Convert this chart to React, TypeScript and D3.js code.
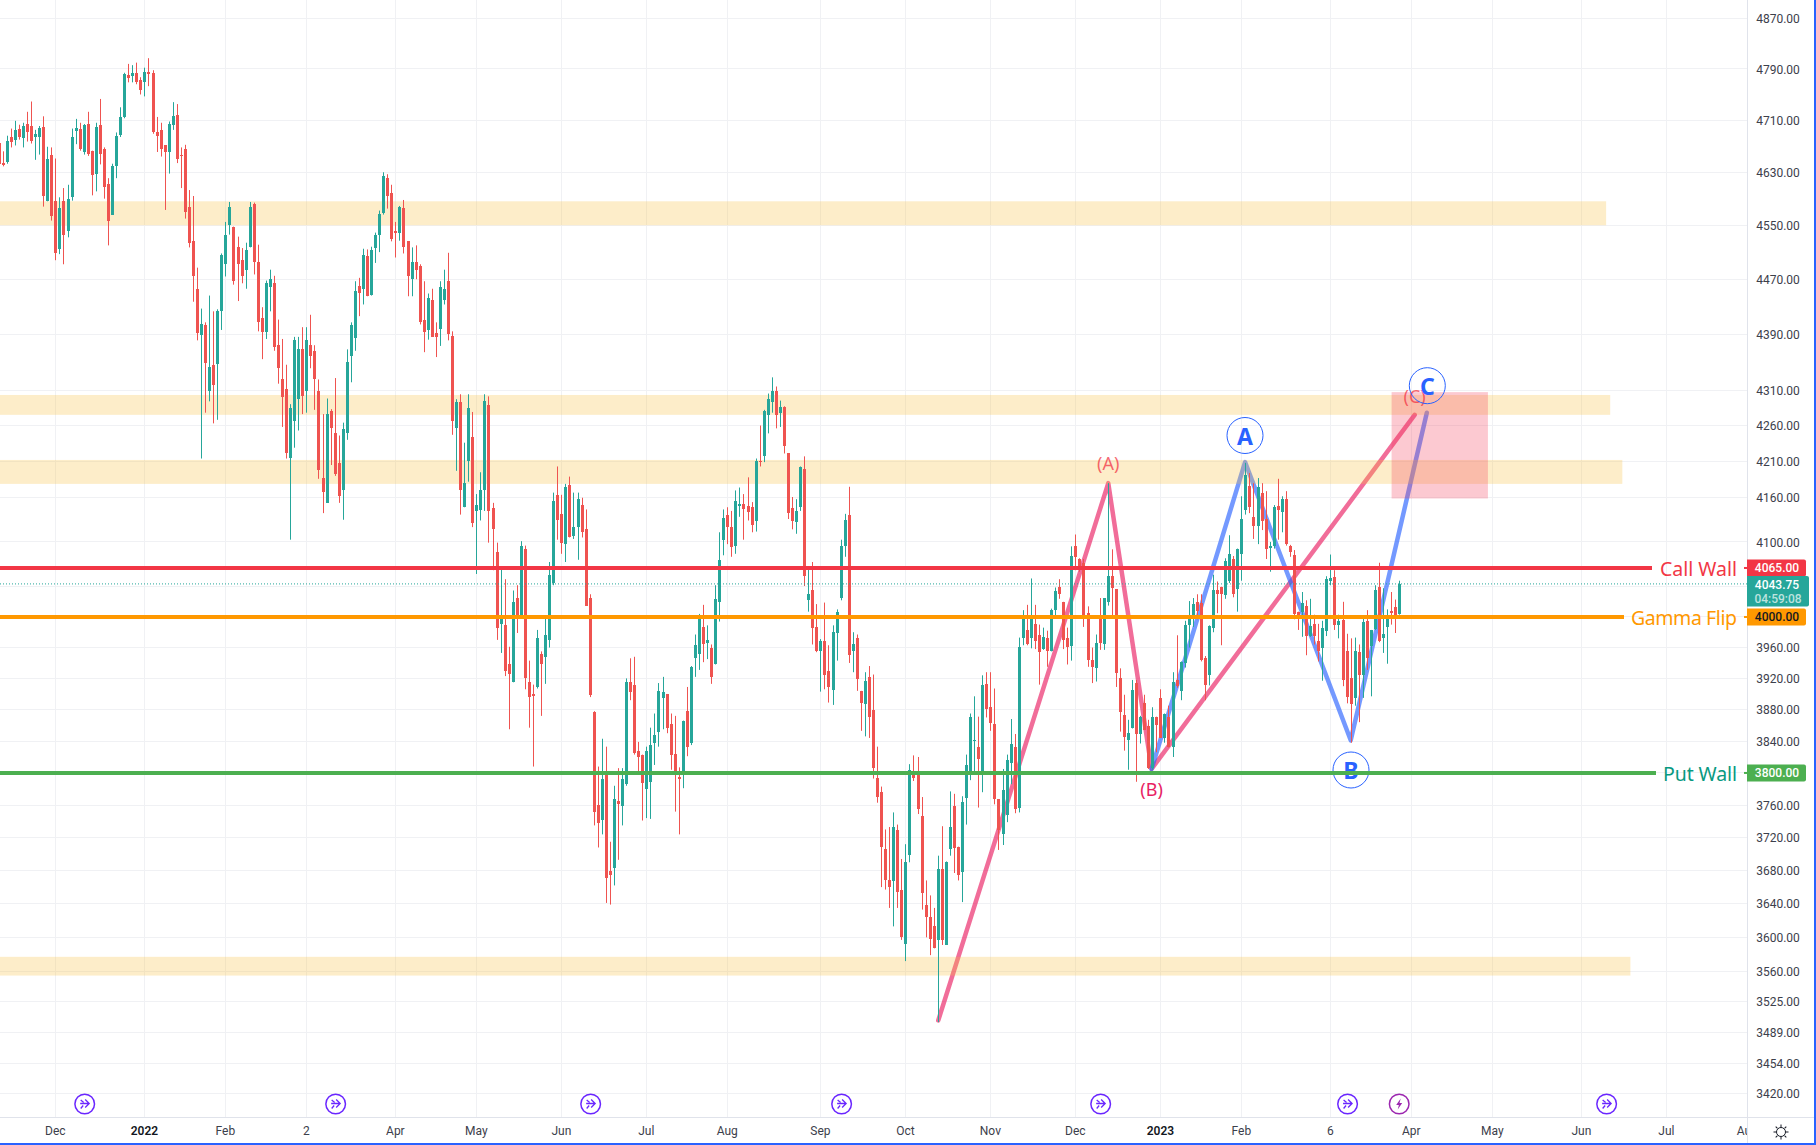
import * as d3 from "d3";

// daily bars
const opens = [
  4675,4644,4646,4684,4680,4697,4683,4704,4701,4684,
  4684,4700,4587,4657,4587,4514,4587,4541,4593,4694,
  4697,4661,4704,4663,4628,4703,4665,4612,4566,4640,
  4687,4715,4781,4779,4784,4773,4769,4785,4784,4692,
  4695,4671,4661,4703,4718,4656,4666,4578,4526,4455,
  4388,4403,4309,4345,4347,4423,4492,4551,4547,4518,
  4498,4483,4518,4582,4495,4413,4393,4458,4465,4374,
  4325,4311,4215,4266,4298,4368,4308,4374,4366,4309,
  4187,4153,4280,4250,4208,4171,4250,4359,4384,4460,
  4455,4504,4447,4516,4535,4569,4621,4599,4541,4538,
  4576,4526,4470,4495,4489,4411,4396,4439,4391,4398,
  4440,4468,4387,4257,4293,4147,4211,4244,4142,4143,
  4170,4289,4146,4087,3991,3990,3939,3915,4025,4000,
  4091,3915,3900,3909,3952,3948,3970,4045,4164,4138,
  4097,4178,4108,4120,4150,4117,4025,3877,3760,3742,
  3799,3680,3683,3765,3759,3786,3915,3911,3828,3823,
  3780,3789,3837,3852,3895,3900,3862,3824,3795,3797,
  3878,3837,3946,3952,3987,3966,3959,3938,4020,4103,
  4137,4120,4094,4149,4152,4149,4147,4128,4211,4218,
  4275,4293,4309,4278,4286,4221,4146,4127,4147,4199,
  4022,4035,3987,3956,3968,3929,3905,3979,4025,4094,
  4136,3955,3972,3904,3887,3922,3879,3794,3776,3706,
  3668,3667,3729,3656,3592,3699,3801,3797,3746,3639,
  3624,3613,3597,3682,3591,3706,3759,3708,3678,3769,
  3800,3840,3833,3797,3913,3883,3862,3767,3724,3748,
  3812,3832,3756,3972,3983,3973,3991,3977,3958,3973,
  3956,4009,4039,4020,3972,3962,4094,4077,4071,4005,
  3944,3934,3997,3965,4020,4054,4037,3920,3873,3842,
  3856,3914,3849,3888,3859,3806,3870,3895,3844,3871,
  3833,3918,3904,3940,3990,4000,4020,4018,3946,3924,
  3986,4036,4039,4029,4048,4077,4037,4084,4143,4176,
  4134,4122,4167,4131,4092,4095,4149,4140,4158,4095,
  4083,4006,4007,4015,3975,3991,3969,3959,3982,4048,
  4053,3989,3996,3955,3920,3895,3954,3924,3995,3962,
  3984,4039,3972,3987,4008,4013,4004,
];
const highs = [
  4675,4662,4686,4697,4709,4703,4706,4723,4739,4695,
  4701,4716,4669,4668,4651,4592,4606,4611,4697,4712,
  4706,4704,4723,4663,4706,4743,4668,4621,4643,4691,
  4730,4784,4798,4796,4800,4777,4792,4807,4788,4715,
  4706,4671,4708,4738,4735,4668,4672,4603,4594,4487,
  4427,4407,4446,4423,4426,4508,4555,4585,4548,4533,
  4516,4524,4585,4584,4521,4429,4468,4484,4475,4411,
  4383,4346,4290,4386,4386,4400,4400,4418,4374,4325,
  4276,4298,4283,4327,4246,4264,4368,4407,4467,4472,
  4515,4514,4518,4539,4572,4630,4627,4611,4555,4579,
  4588,4526,4517,4520,4492,4467,4449,4456,4407,4467,
  4484,4509,4394,4297,4304,4236,4304,4279,4165,4195,
  4304,4301,4153,4099,4066,4050,3961,4035,4042,4101,
  4095,3943,3912,3983,3955,3998,4073,4167,4203,4164,
  4179,4189,4167,4167,4160,4144,4030,3878,3808,3843,
  3833,3715,3784,3806,3806,3920,3946,3948,3839,3823,
  3833,3857,3875,3914,3922,3900,3875,3872,3807,3866,
  3909,3936,3977,4004,4016,3989,3964,4042,4113,4144,
  4147,4142,4170,4174,4165,4188,4154,4214,4260,4282,
  4305,4328,4315,4295,4287,4221,4161,4158,4203,4217,
  4064,4073,4017,3971,4019,3963,3989,4010,4103,4138,
  4175,3980,3977,3904,3928,3936,3925,3833,3783,3730,
  3733,3751,3736,3694,3712,3811,3822,3820,3770,3668,
  3650,3635,3698,3734,3691,3777,3774,3709,3771,3823,
  3875,3897,3871,3924,3928,3928,3907,3767,3805,3823,
  3868,3849,3973,4009,4016,4051,4016,3990,3986,3982,
  4011,4039,4050,4020,3986,4094,4110,4078,4077,4014,
  3960,3977,4025,4025,4180,4090,4037,3933,3899,3867,
  3918,3918,3872,3899,3867,3883,3871,3906,3875,3885,
  3928,3976,3942,3995,4021,4025,4030,4030,3949,3989,
  4056,4047,4040,4078,4109,4081,4091,4162,4208,4194,
  4180,4187,4180,4169,4100,4150,4186,4162,4169,4096,
  4089,4007,4033,4022,4024,4003,3991,3995,4054,4083,
  4062,4003,4020,3978,3972,3973,3964,4000,4009,3983,
  4042,4072,4038,4010,4033,4023,4048,
];
const lows = [
  4639,4639,4643,4668,4671,4680,4668,4677,4674,4649,
  4657,4578,4586,4557,4498,4507,4492,4532,4587,4673,
  4663,4657,4655,4595,4601,4642,4590,4520,4566,4621,
  4684,4713,4769,4769,4766,4750,4747,4763,4689,4661,
  4654,4573,4628,4695,4644,4606,4560,4517,4437,4381,
  4214,4278,4294,4263,4268,4396,4474,4536,4462,4438,
  4464,4456,4517,4477,4394,4354,4383,4423,4366,4319,
  4258,4214,4103,4229,4253,4276,4278,4341,4282,4186,
  4139,4153,4205,4190,4153,4130,4240,4321,4366,4416,
  4433,4445,4446,4494,4510,4566,4575,4526,4502,4527,
  4508,4445,4445,4470,4404,4364,4382,4386,4357,4373,
  4433,4381,4247,4197,4137,4147,4182,4120,4057,4129,
  4142,4099,4062,3970,3953,3923,3855,3915,3979,4000,
  3906,3857,3808,3907,3872,3913,3960,4042,4103,4084,
  4073,4106,4104,4076,4106,4015,3896,3735,3708,3724,
  3641,3639,3662,3693,3735,3784,3892,3823,3801,3741,
  3744,3743,3810,3833,3855,3850,3804,3752,3724,3781,
  3821,3835,3922,3931,3941,3945,3913,3938,3994,4082,
  4097,4080,4084,4134,4103,4129,4113,4114,4203,4209,
  4249,4278,4256,4258,4221,4131,4117,4111,4142,4041,
  4007,3964,3954,3903,3906,3889,3886,3943,4022,4080,
  3940,3928,3904,3853,3846,3844,3793,3763,3660,3657,
  3635,3613,3635,3597,3572,3690,3790,3749,3633,3600,
  3579,3587,3501,3591,3591,3698,3677,3668,3642,3736,
  3791,3802,3757,3776,3870,3853,3761,3705,3711,3739,
  3786,3750,3751,3963,3963,3959,3958,3912,3957,3935,
  3955,4002,4024,3958,3938,3943,4062,4060,3987,3935,
  3914,3916,3957,3957,4015,4000,3909,3852,3828,3804,
  3856,3789,3837,3854,3805,3804,3826,3844,3838,3832,
  3820,3908,3892,3934,3960,3987,3997,3942,3892,3911,
  3980,4005,3963,4024,4045,4026,4007,4048,4137,4139,
  4104,4097,4116,4077,4060,4091,4103,4113,4095,4080,
  3997,3983,3974,3950,3974,3964,3942,3917,3975,4042,
  3983,3972,3910,3888,3838,3885,3864,3895,3931,3897,
  3983,3967,3953,3939,3990,3979,4003,
];
const closes = [
  4642,4641,4678,4677,4695,4684,4701,4692,4678,4689,
  4698,4594,4651,4564,4508,4576,4536,4590,4684,4698,
  4666,4703,4658,4626,4700,4658,4608,4557,4640,4686,
  4715,4782,4776,4784,4769,4757,4785,4782,4691,4686,
  4666,4661,4704,4716,4651,4655,4570,4523,4474,4392,
  4404,4348,4343,4317,4423,4505,4535,4578,4468,4492,
  4474,4513,4578,4496,4408,4393,4465,4470,4372,4341,
  4300,4222,4285,4381,4368,4302,4382,4358,4326,4198,
  4168,4276,4256,4193,4162,4255,4350,4403,4453,4450,
  4505,4446,4513,4536,4567,4624,4594,4529,4538,4578,
  4518,4474,4496,4483,4408,4393,4443,4386,4386,4459,
  4456,4390,4266,4293,4170,4180,4284,4126,4150,4170,
  4295,4142,4118,3986,3997,3929,3926,4020,4003,4095,
  3921,3896,3897,3972,3939,3977,4056,4156,4130,4098,
  4175,4106,4120,4158,4113,4015,3899,3752,3738,3793,
  3671,3674,3768,3762,3792,3916,3902,3825,3820,3788,
  3827,3835,3848,3904,3902,3856,3822,3803,3792,3865,
  3832,3935,3963,4002,3964,3970,3922,4024,4076,4133,
  4120,4093,4156,4152,4145,4140,4123,4210,4209,4281,
  4298,4308,4275,4286,4231,4139,4128,4142,4202,4054,
  4030,3986,3955,3969,3924,3909,3980,4006,4094,4129,
  3950,3965,3919,3888,3917,3871,3806,3770,3708,3669,
  3660,3733,3654,3600,3690,3804,3794,3755,3653,3624,
  3598,3587,3682,3597,3690,3733,3707,3675,3764,3810,
  3870,3841,3818,3911,3881,3863,3767,3729,3779,3816,
  3836,3755,3961,4000,3965,3998,3968,3954,3974,3956,
  4009,4034,4030,3970,3961,4081,4080,4062,4002,3944,
  3935,3966,3966,4025,4054,4038,3927,3877,3845,3850,
  3905,3849,3870,3854,3806,3871,3860,3844,3875,3833,
  3916,3910,3941,3990,4002,4017,4008,3944,3912,3988,
  4036,4031,4031,4074,4084,4031,4090,4131,4191,4147,
  4122,4175,4128,4090,4095,4147,4143,4158,4097,4086,
  4004,3998,4018,3975,3988,3975,3955,3985,4050,4052,
  3989,3995,3918,3896,3887,3955,3924,3994,3946,3983,
  4036,3969,3978,4002,4005,4000,4043.75,
];

const priceTicks = [4870,4790,4710,4630,4550,4470,4390,4310,4260,4210,4160,4100,3960,3920,3880,3840,3760,3720,3680,3640,3600,3560,3525,3489,3454,3420];
const hiddenGrid = [4040, 4000, 3800];

const timeLabels = ["Dec","2022","Feb","2","Apr","May","Jun","Jul","Aug","Sep","Oct","Nov","Dec","2023","Feb","6","Apr","May","Jun","Jul","Aug"];
const timeBars = [15,37,57,77,99,119,140,161,181,204,225,246,267,288,308,330,350,370,392,413,433];

// supply zones: [top price, bottom price, last bar]
const zones = [
  [4586, 4550, 398],
  [4303, 4275, 399],
  [4212, 4179, 402],
  [3577, 3555, 404],
];
const targetBox = { barFrom: 345, barTo: 368.8, top: 4307, bottom: 4159 };

const pinkBars = [233, 275, 285.7, 350.7];
const pinkPrices = [3503, 4180, 3805, 4275];
const blueBars = [285.7, 308.8, 334.9, 353.7];
const bluePrices = [3805, 4209, 3841, 4278];

const walls = [
  { name: "Call Wall", price: 4065, color: "#f23645", labelColor: "#f23645", lineTo: 1652, labelWidth: 77 },
  { name: "Gamma Flip", price: 4000, color: "#ff9800", labelColor: "#ff9800", lineTo: 1624, labelWidth: 106 },
  { name: "Put Wall", price: 3800, color: "#4caf50", labelColor: "#089981", lineTo: 1656, labelWidth: 74 },
];
const lastPrice = 4043.75;
const countdown = "04:59:08";

// events along the bottom of the pane, by bar
const splitBars = [22, 84, 147, 209, 273, 334, 398];
const boltBar = 347;

const W = 1816;
const H = 1145;
const axisX = 1747;
const axisY = 1117;
const FONT = "Roboto, 'Noto Sans', sans-serif";
const LABEL_FONT = "'Noto Sans', 'Open Sans', sans-serif";

const x = d3.scaleLinear().domain([3, 347]).range([7.3, 1399.7]);
const y = d3.scaleLog().domain([4870, 3420]).range([18.6, 1093.3]);
const snap = (v: number) => Math.floor(v) + 0.5;

const pathOf = (bars: number[], prices: number[]) =>
  d3.line<number>()
    .x((b) => x(b))
    .y((_, i) => y(prices[i]))(bars) as string;

const SplitIcon = ({ cx, cy }: { cx: number; cy: number }) => (
  <g transform={`translate(${cx},${cy})`} fill="none" stroke="#6a26ff">
    <circle r={9.8} strokeWidth={1.5} />
    <path d="M-4.5 -0.5H4.5M0.5 -4.5L4.5 -0.5L0.5 3.5" strokeWidth={1.3} />
    <path d="M-4 -4L-1 -1.5M-1.5 1.5L-4 4.5" strokeWidth={1.3} />
  </g>
);

const BoltIcon = ({ cx, cy }: { cx: number; cy: number }) => (
  <g transform={`translate(${cx},${cy})`}>
    <circle r={9.8} strokeWidth={1.5} stroke="#9c27b0" fill="none" />
    <path d="M1.5 -5.5L-3 1H-0.3L-1.5 5.5L3 -1H0.3Z" fill="#9c27b0" />
  </g>
);

const PriceTag = ({ price, fill, color }: { price: number; fill: string; color: string }) => (
  <g>
    <rect x={axisX - 3} y={y(price) - 1} width={4} height={2} fill={fill} />
    <path
      d={`M${axisX} ${y(price) - 8.5}H1804a2 2 0 0 1 2 2V${y(price) + 6.5}a2 2 0 0 1 -2 2H${axisX}Z`}
      fill={fill}
    />
    <text x={1777} y={y(price) + 0.5} textAnchor="middle" dominantBaseline="central" fontSize={12} fontWeight={500} fill={color}>
      {price.toFixed(2)}
    </text>
  </g>
);

export default function App() {
  const bars = opens.map((open, i) => ({
    bar: i + 1,
    open,
    high: highs[i],
    low: lows[i],
    close: closes[i],
  }));

  return (
    <svg
      width={W}
      height={H}
      viewBox={`0 0 ${W} ${H}`}
      style={{ position: "absolute", left: 0, top: 0, background: "#fff" }}
      fontFamily={FONT}
    >
      {/* grid */}
      <g stroke="#f0f1f4" strokeWidth={1}>
        {[...priceTicks, ...hiddenGrid].map((p) => (
          <line key={p} x1={0} x2={axisX} y1={snap(y(p))} y2={snap(y(p))} />
        ))}
        {timeBars.map((b) => (
          <line key={b} x1={snap(x(b))} x2={snap(x(b))} y1={0} y2={axisY} />
        ))}
      </g>

      {/* wave drawings sit under the zones and the candles */}
      <path d={pathOf(pinkBars, pinkPrices)} fill="none" stroke="#e91e63" strokeOpacity={0.65} strokeWidth={4.5} strokeLinejoin="round" strokeLinecap="round" />
      <path d={pathOf(blueBars, bluePrices)} fill="none" stroke="#2962ff" strokeOpacity={0.65} strokeWidth={4.5} strokeLinejoin="round" strokeLinecap="round" />

      {zones.map(([top, bottom, last]) => (
        <rect key={top} x={0} y={y(top)} width={x(last)} height={y(bottom) - y(top)} fill="#f7be3c" fillOpacity={0.28} />
      ))}
      <rect
        x={x(targetBox.barFrom)}
        y={y(targetBox.top)}
        width={x(targetBox.barTo) - x(targetBox.barFrom)}
        height={y(targetBox.bottom) - y(targetBox.top)}
        fill="#f53c5a"
        fillOpacity={0.28}
      />

      {/* candles */}
      <g>
        {bars.map((d) => {
          const cx = snap(x(d.bar));
          const up = d.close >= d.open;
          const color = up ? "#26a69a" : "#ef5350";
          const top = Math.round(y(Math.max(d.open, d.close)));
          const bottom = Math.round(y(Math.min(d.open, d.close)));
          return (
            <g key={d.bar} fill={color}>
              <rect x={cx - 0.5} y={y(d.high)} width={1} height={y(d.low) - y(d.high)} />
              <rect x={cx - 1.5} y={top} width={3} height={Math.max(bottom - top, 1)} />
            </g>
          );
        })}
      </g>

      {/* wave labels */}
      <g fontFamily={LABEL_FONT} textAnchor="middle" dominantBaseline="central">
        <text x={x(275)} y={463} fontSize={18} fill="#f23645" fillOpacity={0.75}>(A)</text>
        <text x={x(285.7)} y={789} fontSize={18} fill="#e91e63">(B)</text>
        <text x={x(350.7)} y={396} fontSize={18} fill="#f23645" fillOpacity={0.75}>(C)</text>
        {[
          { t: "A", cx: 1245, cy: 435.5 },
          { t: "B", cx: 1351, cy: 770 },
          { t: "C", cx: 1427.3, cy: 385.7 },
        ].map((c) => (
          <g key={c.t}>
            <circle cx={c.cx} cy={c.cy} r={18} fill="none" stroke="#2962ff" strokeWidth={1} />
            <text x={c.cx} y={c.cy} fontSize={23} fontWeight={700} fill="#2962ff">{c.t}</text>
          </g>
        ))}
      </g>

      {/* gamma levels */}
      {walls.map((w) => (
        <g key={w.name}>
          <line x1={0} x2={w.lineTo} y1={y(w.price)} y2={y(w.price)} stroke={w.color} strokeWidth={4} />
          <text
            x={1737 - w.labelWidth}
            y={y(w.price) + 1}
            dominantBaseline="central"
            fontFamily={LABEL_FONT}
            fontSize={19.5}
            textLength={w.labelWidth}
            lengthAdjust="spacing"
            fill={w.labelColor}
          >
            {w.name}
          </text>
        </g>
      ))}

      {/* last price */}
      <line x1={0} x2={axisX} y1={y(lastPrice)} y2={y(lastPrice)} stroke="#26a69a" strokeWidth={1} strokeDasharray="1 2" />

      {/* corporate events */}
      {splitBars.map((b) => (
        <SplitIcon key={b} cx={x(b) + 0.5} cy={1104} />
      ))}
      <BoltIcon cx={x(boltBar) - 0.5} cy={1104} />

      {/* time axis */}
      <g fontSize={12} textAnchor="middle" dominantBaseline="central" fill="#3c404b">
        {timeLabels.map((t, i) => (
          <text
            key={`${t}-${i}`}
            x={x(timeBars[i]) - 0.5}
            y={1131}
            fontWeight={/^20/.test(t) ? 600 : 400}
            fill={/^20/.test(t) ? "#131722" : "#3c404b"}
          >
            {t}
          </text>
        ))}
      </g>
      <line x1={0} x2={W} y1={axisY + 0.5} y2={axisY + 0.5} stroke="#e0e3eb" strokeWidth={1} />

      {/* price axis */}
      <rect x={axisX} y={0} width={W - axisX} height={H} fill="#fff" />
      <line x1={axisX + 0.5} x2={axisX + 0.5} y1={0} y2={H} stroke="#e0e3eb" strokeWidth={1} />
      <line x1={axisX} x2={W} y1={axisY + 0.5} y2={axisY + 0.5} stroke="#e0e3eb" strokeWidth={1} />
      <g fontSize={12} textAnchor="middle" dominantBaseline="central" fill="#3c404b">
        {priceTicks.map((p) => (
          <text key={p} x={1778} y={y(p) + 0.7}>{p.toFixed(2)}</text>
        ))}
      </g>

      <PriceTag price={4065} fill="#f23645" color="#ffffff" />
      <PriceTag price={4000} fill="#ff9800" color="#131722" />
      <PriceTag price={3800} fill="#4caf50" color="#ffffff" />
      <g>
        <path
          d={`M${axisX} ${y(lastPrice) - 8}H1807a2 2 0 0 1 2 2V${y(lastPrice) + 20.5}a2 2 0 0 1 -2 2H${axisX}Z`}
          fill="#26a69a"
        />
        <text x={1777} y={y(lastPrice) + 1.2} textAnchor="middle" dominantBaseline="central" fontSize={12} fontWeight={500} fill="#fff">
          {lastPrice.toFixed(2)}
        </text>
        <text x={1778} y={y(lastPrice) + 15} textAnchor="middle" dominantBaseline="central" fontSize={12} fontWeight={500} fill="#bde3df">
          {countdown}
        </text>
      </g>

      {/* settings glyph */}
      <g transform="translate(1781,1132)" fill="none" stroke="#131722" strokeWidth={1}>
        <circle r={4.5} />
        {d3.range(8).map((i) => (
          <line key={i} x1={0} x2={0} y1={-5} y2={-7.5} transform={`rotate(${i * 45})`} />
        ))}
      </g>

      {/* window frame */}
      <rect x={W - 2} y={0} width={2} height={H} fill="#2962ff" />
      <rect x={0} y={H - 2} width={W} height={2} fill="#2962ff" />
    </svg>
  );
}
